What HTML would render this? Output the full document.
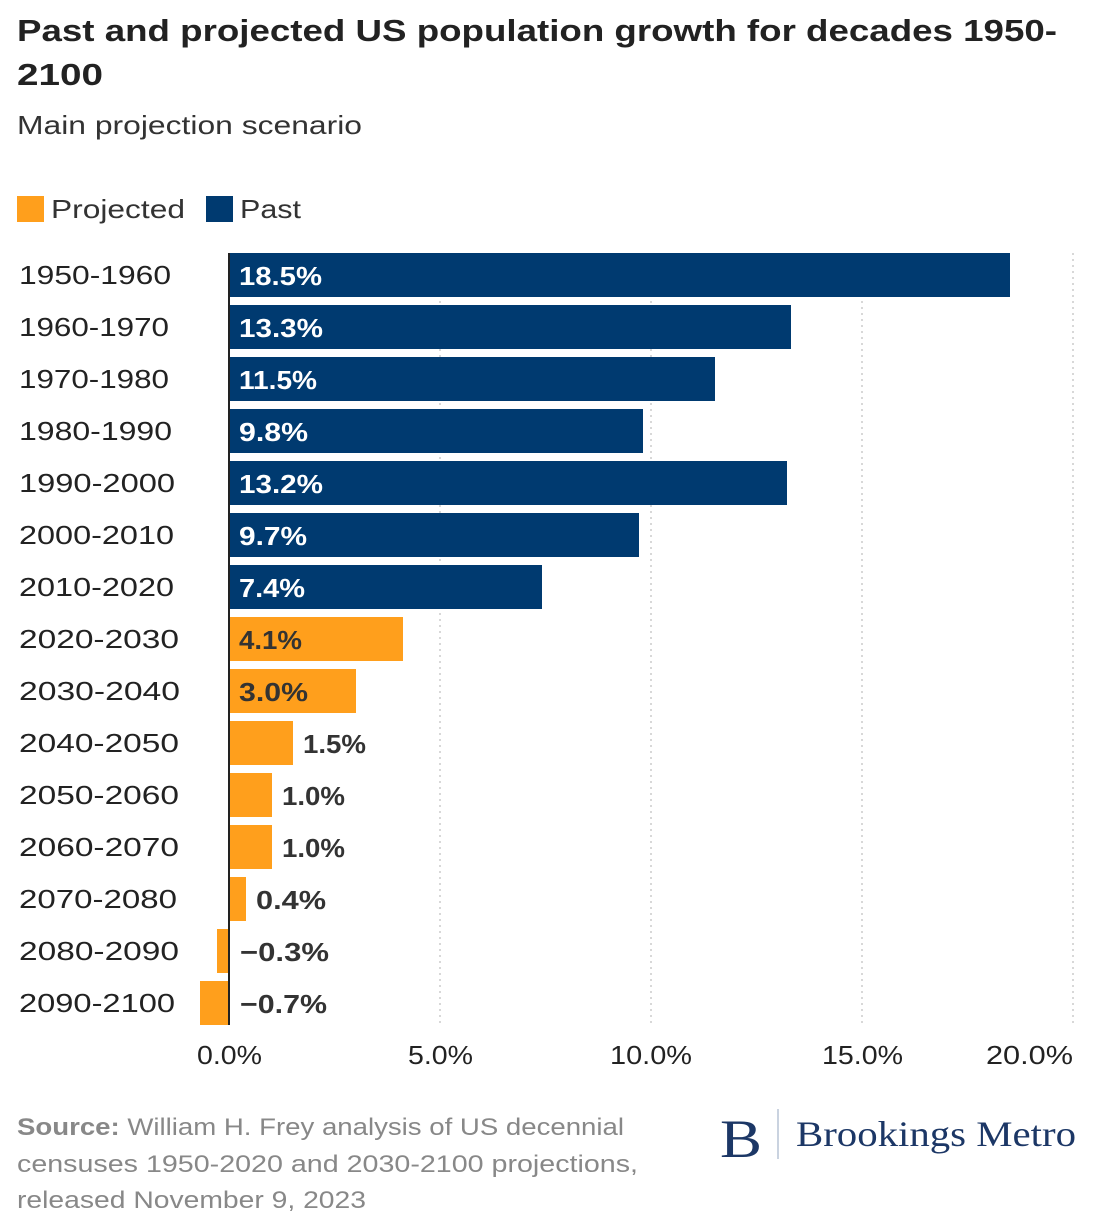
<!DOCTYPE html>
<html><head><meta charset="utf-8"><style>
html,body{margin:0;padding:0;background:#fff;}
svg{display:block;font-family:"Liberation Sans",sans-serif;}
</style></head><body>
<svg width="1107" height="1224" viewBox="0 0 1107 1224" xmlns="http://www.w3.org/2000/svg">
<g lengthAdjust="spacingAndGlyphs">
<text x="17" y="41" font-size="31" font-weight="bold" fill="#222" textLength="1040" lengthAdjust="spacingAndGlyphs">Past and projected US population growth for decades 1950-</text>
<text x="17" y="85" font-size="31" font-weight="bold" fill="#222" textLength="86" lengthAdjust="spacingAndGlyphs">2100</text>
<text x="17" y="134" font-size="26" fill="#333" textLength="345" lengthAdjust="spacingAndGlyphs">Main projection scenario</text>
<rect x="17" y="196" width="27" height="26" fill="#ff9f1c"/>
<text x="51" y="218" font-size="26" fill="#333" textLength="134" lengthAdjust="spacingAndGlyphs">Projected</text>
<rect x="206" y="196" width="27" height="26" fill="#003a70"/>
<text x="240" y="218" font-size="26" fill="#333" textLength="61" lengthAdjust="spacingAndGlyphs">Past</text>
</g>
<g stroke="#ccc" stroke-width="1.5" stroke-dasharray="2,4">
<line x1="440" y1="253" x2="440" y2="1025"/>
<line x1="651" y1="253" x2="651" y2="1025"/>
<line x1="862" y1="253" x2="862" y2="1025"/>
<line x1="1073" y1="253" x2="1073" y2="1025"/>
</g>
<g font-size="26" fill="#222">
<text x="19" y="284" textLength="152" lengthAdjust="spacingAndGlyphs">1950-1960</text>
<text x="19" y="336" textLength="150" lengthAdjust="spacingAndGlyphs">1960-1970</text>
<text x="19" y="388" textLength="150" lengthAdjust="spacingAndGlyphs">1970-1980</text>
<text x="19" y="440" textLength="153" lengthAdjust="spacingAndGlyphs">1980-1990</text>
<text x="19" y="492" textLength="156" lengthAdjust="spacingAndGlyphs">1990-2000</text>
<text x="19" y="544" textLength="155" lengthAdjust="spacingAndGlyphs">2000-2010</text>
<text x="19" y="596" textLength="155" lengthAdjust="spacingAndGlyphs">2010-2020</text>
<text x="19" y="648" textLength="160" lengthAdjust="spacingAndGlyphs">2020-2030</text>
<text x="19" y="700" textLength="161" lengthAdjust="spacingAndGlyphs">2030-2040</text>
<text x="19" y="752" textLength="160" lengthAdjust="spacingAndGlyphs">2040-2050</text>
<text x="19" y="804" textLength="160" lengthAdjust="spacingAndGlyphs">2050-2060</text>
<text x="19" y="856" textLength="160" lengthAdjust="spacingAndGlyphs">2060-2070</text>
<text x="19" y="908" textLength="158" lengthAdjust="spacingAndGlyphs">2070-2080</text>
<text x="19" y="960" textLength="160" lengthAdjust="spacingAndGlyphs">2080-2090</text>
<text x="19" y="1012" textLength="156" lengthAdjust="spacingAndGlyphs">2090-2100</text>
</g>
<g fill="#003a70">
<rect x="229" y="253" width="781" height="44"/>
<rect x="229" y="305" width="562" height="44"/>
<rect x="229" y="357" width="486" height="44"/>
<rect x="229" y="409" width="414" height="44"/>
<rect x="229" y="461" width="558" height="44"/>
<rect x="229" y="513" width="410" height="44"/>
<rect x="229" y="565" width="313" height="44"/>
</g>
<g fill="#ff9f1c">
<rect x="229" y="617" width="174" height="44"/>
<rect x="229" y="669" width="127" height="44"/>
<rect x="229" y="721" width="64" height="44"/>
<rect x="229" y="773" width="43" height="44"/>
<rect x="229" y="825" width="43" height="44"/>
<rect x="229" y="877" width="17" height="44"/>
<rect x="217" y="929" width="12" height="44"/>
<rect x="200" y="981" width="29" height="44"/>
</g>
<line x1="229" y1="253" x2="229" y2="1025" stroke="#222" stroke-width="2"/>
<g font-size="26" font-weight="bold" fill="#fff">
<text x="239" y="285" textLength="83" lengthAdjust="spacingAndGlyphs">18.5%</text>
<text x="239" y="337" textLength="84" lengthAdjust="spacingAndGlyphs">13.3%</text>
<text x="239" y="389" textLength="78" lengthAdjust="spacingAndGlyphs">11.5%</text>
<text x="239" y="441" textLength="69" lengthAdjust="spacingAndGlyphs">9.8%</text>
<text x="239" y="493" textLength="84" lengthAdjust="spacingAndGlyphs">13.2%</text>
<text x="239" y="545" textLength="68" lengthAdjust="spacingAndGlyphs">9.7%</text>
<text x="239" y="597" textLength="66" lengthAdjust="spacingAndGlyphs">7.4%</text>
</g>
<g font-size="26" font-weight="bold" fill="#333">
<text x="239" y="649" textLength="63" lengthAdjust="spacingAndGlyphs">4.1%</text>
<text x="239" y="701" textLength="69" lengthAdjust="spacingAndGlyphs">3.0%</text>
<text x="303" y="753" textLength="63" lengthAdjust="spacingAndGlyphs">1.5%</text>
<text x="282" y="805" textLength="63" lengthAdjust="spacingAndGlyphs">1.0%</text>
<text x="282" y="857" textLength="63" lengthAdjust="spacingAndGlyphs">1.0%</text>
<text x="256" y="909" textLength="70" lengthAdjust="spacingAndGlyphs">0.4%</text>
<text x="240" y="961" textLength="89" lengthAdjust="spacingAndGlyphs">−0.3%</text>
<text x="240" y="1013" textLength="87" lengthAdjust="spacingAndGlyphs">−0.7%</text>
</g>
<g font-size="26" fill="#222">
<text x="197" y="1064" textLength="65" lengthAdjust="spacingAndGlyphs">0.0%</text>
<text x="408" y="1064" textLength="65" lengthAdjust="spacingAndGlyphs">5.0%</text>
<text x="610" y="1064" textLength="82" lengthAdjust="spacingAndGlyphs">10.0%</text>
<text x="822" y="1064" textLength="81" lengthAdjust="spacingAndGlyphs">15.0%</text>
<text x="986" y="1064" textLength="87" lengthAdjust="spacingAndGlyphs">20.0%</text>
</g>
<g font-size="24" fill="#888">
<text x="17" y="1135" textLength="607" lengthAdjust="spacingAndGlyphs"><tspan font-weight="bold">Source:</tspan> William H. Frey analysis of US decennial</text>
<text x="17" y="1172" textLength="621" lengthAdjust="spacingAndGlyphs">censuses 1950-2020 and 2030-2100 projections,</text>
<text x="17" y="1208" textLength="349" lengthAdjust="spacingAndGlyphs">released November 9, 2023</text>
</g>
<text x="720" y="1157" font-family="Liberation Serif,serif" font-size="54" fill="#1c3766" textLength="42" lengthAdjust="spacingAndGlyphs">B</text>
<line x1="778" y1="1109" x2="778" y2="1159" stroke="#b8c4d6" stroke-width="1.5"/>
<text x="796" y="1146" font-family="Liberation Serif,serif" font-size="36" fill="#1c3766" textLength="280" lengthAdjust="spacingAndGlyphs">Brookings Metro</text>
</svg>
</body></html>
